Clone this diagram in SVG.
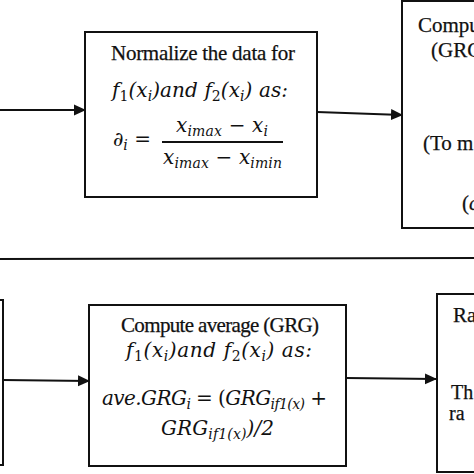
<svg xmlns="http://www.w3.org/2000/svg" width="474" height="474" viewBox="0 0 474 474">
<defs>
<style>
.box{fill:#fff;stroke:#111;stroke-width:2}
.ln{stroke:#111;stroke-width:2;fill:none}
.t{font-family:"Liberation Serif","Times New Roman",serif;font-size:21px;fill:#111;stroke:#111;stroke-width:0.25}
.m{font-family:"DejaVu Serif","Liberation Serif",serif;font-style:italic;font-size:20px;fill:#111}
.s{font-size:14px}
.u{font-style:normal}
.r{font-size:20px}
</style>
<marker id="ah" markerUnits="userSpaceOnUse" markerWidth="12" markerHeight="12" refX="11" refY="6" orient="auto">
<path d="M0,0.5 L12,6 L0,11.5 z" fill="#111"/>
</marker>
</defs>
<rect width="474" height="474" fill="#fff"/>
<g id="connectors">
<line class="ln" x1="0" y1="110" x2="85" y2="110" marker-end="url(#ah)"/>
<line class="ln" x1="317" y1="112" x2="402" y2="115" marker-end="url(#ah)"/>
<line class="ln" x1="0" y1="259" x2="474" y2="258"/>
<line class="ln" x1="3" y1="380" x2="89" y2="381" marker-end="url(#ah)"/>
<line class="ln" x1="346" y1="378" x2="436" y2="379" marker-end="url(#ah)"/>
</g>
<g id="node-normalize">
<rect class="box" x="85" y="32" width="232" height="165"/>
<text class="t" x="111" y="60" textLength="184">Normalize the data for</text>
<text class="m" x="112" y="97" textLength="176">f<tspan class="s u" dy="4">1</tspan><tspan dy="-4">(x</tspan><tspan class="s" dy="4">i</tspan><tspan dy="-4">)and f</tspan><tspan class="s u" dy="4">2</tspan><tspan dy="-4">(x</tspan><tspan class="s" dy="4">i</tspan><tspan dy="-4">) as:</tspan></text>
<text class="m" x="113" y="146">∂<tspan class="s" dy="4">i</tspan><tspan class="u" dy="-4"> =</tspan></text>
<line class="ln" x1="162" y1="142" x2="283" y2="142" stroke-width="1.5"/>
<text class="m" x="176" y="132" textLength="92">x<tspan class="s" dy="4">imax</tspan><tspan class="u" dy="-4"> − </tspan>x<tspan class="s" dy="4">i</tspan></text>
<text class="m" x="163" y="164" textLength="119">x<tspan class="s" dy="4">imax</tspan><tspan class="u" dy="-4"> − </tspan>x<tspan class="s" dy="4">imin</tspan></text>
</g>
<g id="node-compute-grg">
<rect class="box" x="402" y="1" width="80" height="227"/>
<text class="t" x="418" y="32">Compu</text>
<text class="t" x="431" y="57">(GRG</text>
<text class="t" x="423" y="150">(To m</text>
<text class="t" x="462" y="210">(<tspan font-style="italic">c</tspan></text>
</g>
<g id="node-left-bottom">
<rect class="box" x="-10" y="300" width="13" height="165"/>
</g>
<g id="node-average">
<rect class="box" x="89" y="305" width="257" height="161"/>
<text class="t" x="121" y="332" textLength="198">Compute average (GRG)</text>
<text class="m" x="126" y="357" textLength="186">f<tspan class="s u" dy="4">1</tspan><tspan dy="-4">(x</tspan><tspan class="s" dy="4">i</tspan><tspan dy="-4">)and f</tspan><tspan class="s u" dy="4">2</tspan><tspan dy="-4">(x</tspan><tspan class="s" dy="4">i</tspan><tspan dy="-4">) as:</tspan></text>
<text class="m" x="102" y="405" textLength="225">ave.GRG<tspan class="s" dy="4">i</tspan><tspan class="u" dy="-4"> = (</tspan>GRG<tspan class="s" dy="4">if1(x)</tspan><tspan class="u" dy="-4"> +</tspan></text>
<text class="m" x="161" y="435" textLength="113">GRG<tspan class="s" dy="4">if1(x)</tspan><tspan dy="-4">)/2</tspan></text>
</g>
<g id="node-rank">
<rect class="box" x="437" y="294" width="50" height="178"/>
<text class="t" x="453" y="322">Ra</text>
<text class="t r" x="451" y="399">Th</text>
<text class="t r" x="449" y="420">ra</text>
</g>
</svg>
